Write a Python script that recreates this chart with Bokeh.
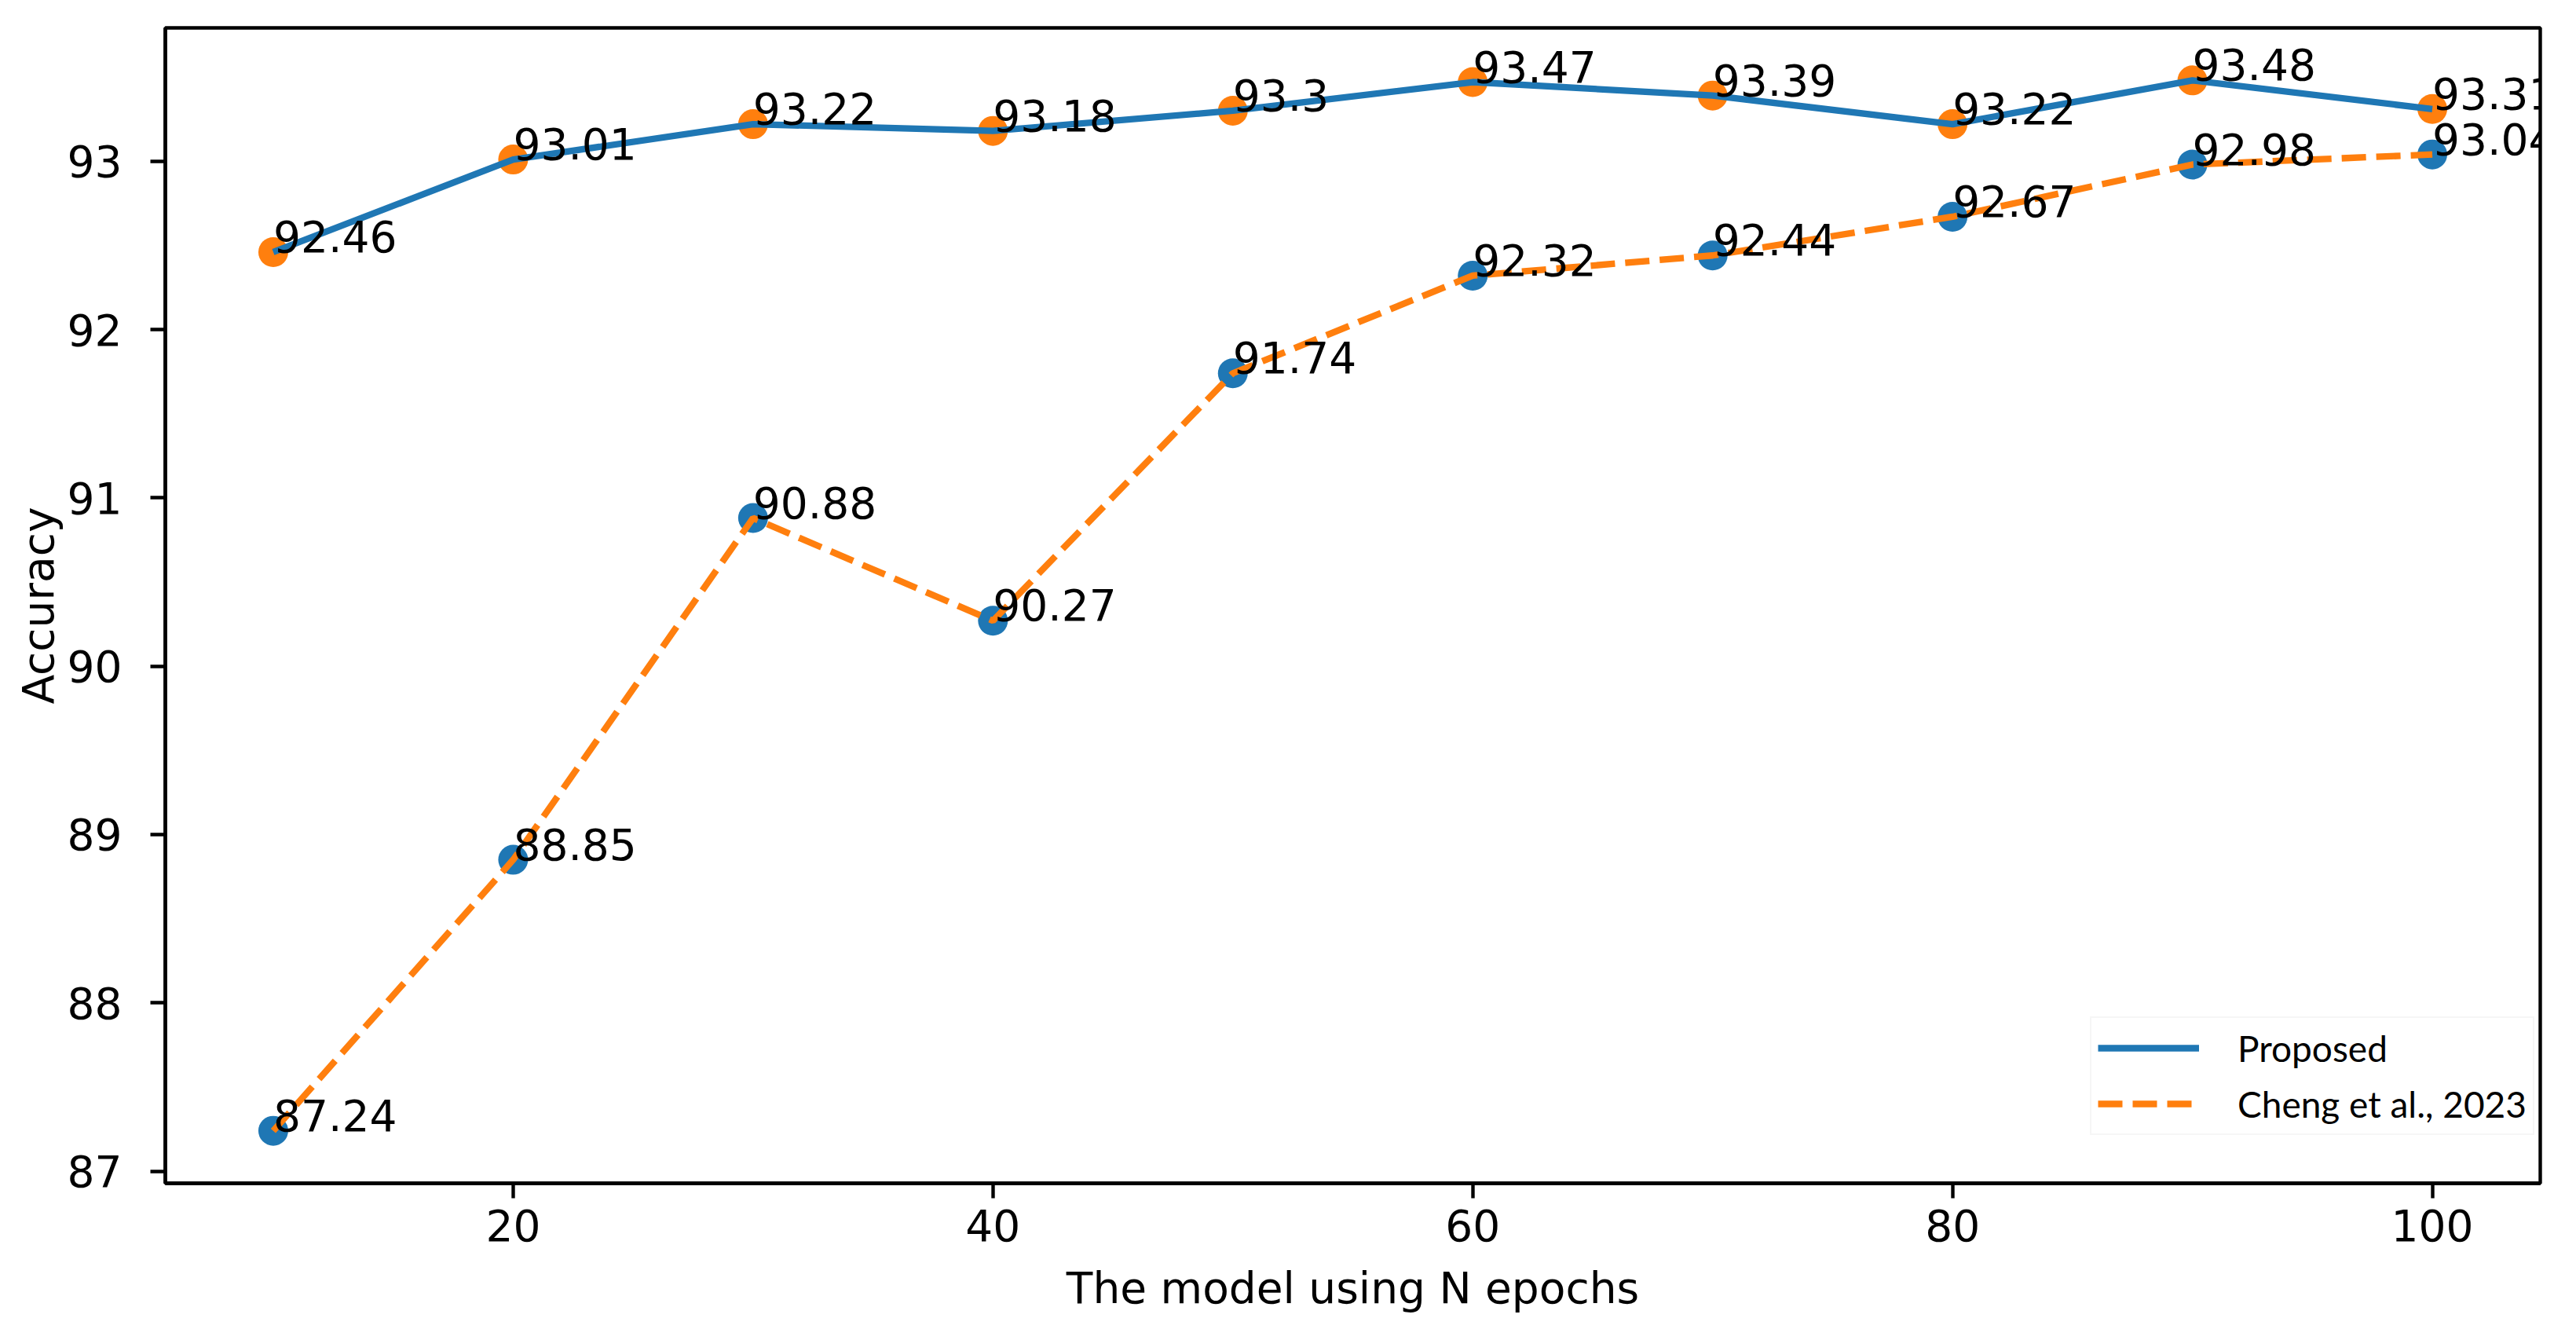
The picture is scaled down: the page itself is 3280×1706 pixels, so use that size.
from bokeh.plotting import figure
from bokeh.models import Range1d, FixedTicker, Legend, LegendItem, LabelSet, ColumnDataSource
from bokeh.core.properties import value
from bokeh.embed import file_html
from bokeh.resources import INLINE

# epochs and accuracies
epochs = [10, 20, 30, 40, 50, 60, 70, 80, 90, 100]
proposed = [92.46, 93.01, 93.22, 93.18, 93.3, 93.47, 93.39, 93.22, 93.48, 93.31]
cheng = [87.24, 88.85, 90.88, 90.27, 91.74, 92.32, 92.44, 92.67, 92.98, 93.04]
x_ticks = [20, 40, 60, 80, 100]
y_ticks = [87, 88, 89, 90, 91, 92, 93]

blue = "#1f77b4"
orange = "#ff7f0e"
font = "DejaVu Sans"
fs = "55px"

p = figure(width=3264, height=1690, output_backend="svg", toolbar_location=None,
           x_range=Range1d(5.5, 104.5), y_range=Range1d(86.928, 93.792),
           x_axis_label="The model using N epochs", y_axis_label="Accuracy",
           min_border_left=210, min_border_right=30, min_border_top=35, min_border_bottom=184)

p.xgrid.visible = False
p.ygrid.visible = False
p.outline_line_color = "black"
p.outline_line_width = 4.4
p.background_fill_color = "white"
p.border_fill_color = "white"

p.xaxis.ticker = FixedTicker(ticks=x_ticks)
p.yaxis.ticker = FixedTicker(ticks=y_ticks)
for ax in [p.xaxis, p.yaxis]:
    ax.axis_line_width = 4.4
    ax.major_tick_line_width = 4.4
    ax.major_tick_out = 19
    ax.major_tick_in = 0
    ax.minor_tick_line_color = None
    ax.major_label_text_font = font
    ax.major_label_text_font_size = fs
    ax.major_label_text_color = "black"
    ax.axis_label_text_font = font
    ax.axis_label_text_font_size = fs
    ax.axis_label_text_font_style = "normal"
    ax.axis_label_text_color = "black"
p.xaxis.major_label_standoff = 14
p.yaxis.major_label_standoff = 36
p.xaxis.axis_label_standoff = 25
p.yaxis.axis_label_standoff = 2

# markers first (colours swapped like the original), lines drawn over them
p.scatter(epochs, proposed, size=38, color=orange, line_color=None)
p.scatter(epochs, cheng, size=38, color=blue, line_color=None)

l1 = p.line(epochs, proposed, line_color=blue, line_width=8.3)
l2 = p.line(epochs, cheng, line_color=orange, line_width=8.3, line_dash="31 13")

# value labels, baseline sitting on the point, allowed past the frame
for ys in [proposed, cheng]:
    src = ColumnDataSource(data=dict(x=epochs, y=ys, t=[str(v) for v in ys]))
    p.add_layout(LabelSet(x="x", y="y", text="t", source=src, text_align="left",
                          text_baseline="bottom", y_offset=0,
                          text_font=value(font), text_font_size=fs, text_color="black"))

legend = Legend(items=[LegendItem(label="Proposed", renderers=[l1]),
                       LegendItem(label="Cheng et al., 2023", renderers=[l2])],
                location=(2451, 61))
legend.label_text_font = "Lato"
legend.label_text_font_size = "46px"
legend.label_text_color = "black"
legend.glyph_width = 129
legend.glyph_height = 60
legend.label_height = 60
legend.label_standoff = 49
legend.spacing = 11
legend.padding = 8
legend.margin = 0
legend.border_line_color = "#eeeeee"
legend.border_line_width = 2
legend.background_fill_alpha = 0.8
p.add_layout(legend)

open("out.html", "w").write(file_html(p, INLINE))
